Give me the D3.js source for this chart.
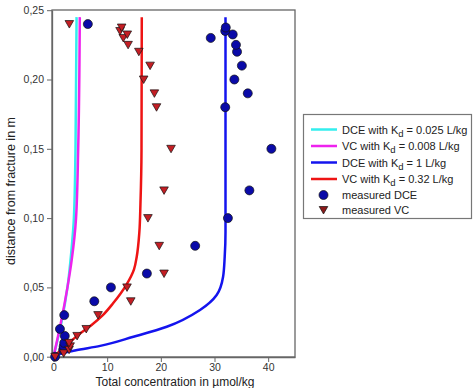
<!DOCTYPE html>
<html><head>
<meta charset="utf-8">
<script src="https://d3js.org/d3.v7.min.js"></script>
<style>
  body { margin: 0; background: #fff; }
  svg text { font-family: "Liberation Sans", Arial, sans-serif; fill: #222; }
</style>
</head>
<body>
<svg id="chart" width="474" height="388"></svg>
<script>
// model curves as [concentration, distance]
let dceLow  = [[0,0],[1.5,0.025],[2.6,0.05],[3.3,0.075],[3.8,0.1],[4.1,0.15],[4.3,0.245]];
let vcLow   = [[0,0],[1.4,0.025],[2.6,0.05],[3.4,0.07],[4.2,0.1],[4.6,0.15],[4.9,0.245]];
let dceHigh = [[0,0],[2,0.0028],[4,0.0045],[8.7,0.0078],[14.9,0.0144],[21.1,0.0216],[27.3,0.0337],
               [30.4,0.0445],[31.6,0.0577],[31.9,0.072],[32.05,0.09],[32.05,0.245]];
let vcHigh  = [[0,0],[2.1,0.0072],[4.6,0.0157],[7.1,0.0229],[9.2,0.030],[11.1,0.0385],[13.6,0.052],
               [15.0,0.063],[15.5,0.072],[16.0,0.09],[16.2,0.11],[16.4,0.15],[16.45,0.245]];

// measured values
let measDCE = [[0.3,0],[1.8,0.005],[1.9,0.0075],[2.0,0.01],[2.1,0.015],[1.2,0.02],[2.0,0.03],[7.6,0.04],
               [10.7,0.05],[17.4,0.06],[26.4,0.08],[32.5,0.10],[36.5,0.12],[40.6,0.15],[32.0,0.18],
               [36.2,0.19],[33.7,0.20],[35.1,0.21],[34.2,0.22],[34.0,0.225],[29.3,0.23],[33.4,0.2325],
               [32.0,0.235],[32.1,0.2375],[6.4,0.24]];
let measVC  = [[0.3,0],[1.9,0.0025],[2.9,0.005],[3.1,0.0075],[2.9,0.01],[4.4,0.015],[6.1,0.02],[8.3,0.03],
               [14.4,0.04],[13.7,0.05],[20.6,0.06],[19.7,0.08],[17.6,0.10],[20.6,0.12],[21.9,0.15],
               [19.2,0.18],[18.8,0.19],[16.8,0.20],[18.0,0.21],[15.9,0.22],[13.9,0.225],[13.0,0.23],
               [13.75,0.2325],[12.4,0.235],[12.7,0.2375],[2.95,0.24]];

let xTicks = [0,10,20,30,40];
let yTicks = [0,0.05,0.10,0.15,0.20,0.25];
let lineNames = ["DCE with K|d| = 0.025 L/kg","VC with K|d| = 0.008 L/kg","DCE with K|d| = 1 L/kg","VC with K|d| = 0.32 L/kg"];
let pointNames = ["measured DCE","measured VC"];

let svg = d3.select("#chart");
let plotLeft = 52, plotRight = 295, plotTop = 10, plotBottom = 357;

let xScale = d3.scaleLinear().domain([-0.28, 45]).range([plotLeft, plotRight]);
let yScale = d3.scaleLinear().domain([0, 0.25]).range([356.7, 10.2]);

// frame
svg.append("rect").attr("x", plotLeft).attr("y", plotTop)
   .attr("width", plotRight-plotLeft).attr("height", plotBottom-plotTop)
   .style("fill","none").style("stroke","#666").style("stroke-width",1.3);

let xAxis = svg.append("g").attr("transform", `translate(0,${plotBottom})`)
  .call(d3.axisBottom(xScale).tickValues(xTicks).tickSize(5).tickPadding(2).tickSizeOuter(0)
        .tickFormat(d3.format("d")));
let yAxis = svg.append("g").attr("transform", `translate(${plotLeft},0)`)
  .call(d3.axisLeft(yScale).tickValues(yTicks).tickSize(5).tickSizeOuter(0)
        .tickFormat(d => d3.format(".2f")(d).replace(".", ",")));
[xAxis, yAxis].forEach(function(ax) {
  ax.select(".domain").style("stroke","#666").style("stroke-width",1.3);
  ax.selectAll(".tick line").style("stroke","#666");
  ax.selectAll("text").style("font-size","10.5px").style("fill","#333");
});

// axis titles
svg.append("text").attr("x", 175).attr("y", 386).attr("text-anchor","middle")
   .style("font-size","12px").text("Total concentration in µmol/kg");
svg.append("text").attr("transform","translate(15,191) rotate(-90)").attr("text-anchor","middle")
   .style("font-size","12.5px").text("distance from fracture in m");

// curves
let colors = ["#33eeee","#ee22ee","#1414ee","#ee1414"];
let line = d3.line().x(d => xScale(d[0])).y(d => yScale(d[1])).curve(d3.curveMonotoneY);
[dceLow, vcLow, dceHigh, vcHigh].forEach(function(series, i) {
  svg.append("path").datum(series).attr("d", line)
     .style("fill","none").style("stroke", colors[i]).style("stroke-width",2.5);
});

// markers
let triangle = function(cx, cy) {
  return `M${cx-4.3},${cy-3.5} L${cx+4.3},${cy-3.5} L${cx},${cy+4} Z`;
};
measDCE.forEach(function(d) {
  svg.append("circle").attr("cx", xScale(d[0])).attr("cy", yScale(d[1])).attr("r", 4.5)
     .style("fill","#0a0aa8").style("stroke","#111").style("stroke-width",0.7);
});
measVC.forEach(function(d) {
  svg.append("path").attr("d", triangle(xScale(d[0]), yScale(d[1])))
     .style("fill","#c41e24").style("stroke","#111").style("stroke-width",0.7);
});

// legend
let legend = svg.append("g");
legend.append("rect").attr("x",303.5).attr("y",114.5).attr("width",168).attr("height",104)
   .style("fill","#fff").style("stroke","#777").style("stroke-width",1.2);
let rowY = [129.5, 146, 162.5, 179, 195, 210];
lineNames.forEach(function(name, i) {
  legend.append("line").attr("x1",311).attr("x2",337).attr("y1",rowY[i]).attr("y2",rowY[i])
     .style("stroke", colors[i]).style("stroke-width",2.5);
  let parts = name.split("|");
  let t = legend.append("text").attr("x",342).attr("y",rowY[i]+4).style("font-size","11px");
  t.append("tspan").text(parts[0]);
  t.append("tspan").attr("dy",3).style("font-size","9.5px").text(parts[1]);
  t.append("tspan").attr("dy",-3).text(parts[2]);
});
legend.append("circle").attr("cx",323.5).attr("cy",rowY[4]).attr("r",4.5)
   .style("fill","#0a0aa8").style("stroke","#111").style("stroke-width",0.7);
legend.append("path").attr("d", triangle(323.5, rowY[5]))
   .style("fill","#8b1a1a").style("stroke","#111").style("stroke-width",0.7);
pointNames.forEach(function(name, i) {
  legend.append("text").attr("x",342).attr("y",rowY[4+i]+4).style("font-size","11px").text(name);
});
</script>
</body>
</html>
